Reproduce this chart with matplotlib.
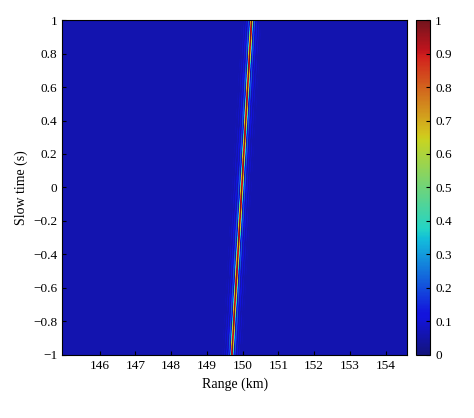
import numpy as np
import matplotlib
matplotlib.use("Agg")
import matplotlib.pyplot as plt
from matplotlib.colors import ListedColormap

range_km = np.linspace(144.95, 154.6, 1200)
slow_time = np.linspace(-1, 1, 300)
line_start_km = 149.7   # at t=-1
line_end_km = 150.25    # at t=1
mainlobe_width_km = 0.06
floor = 0.06
xticks = [146, 147, 148, 149, 150, 151, 152, 153, 154]
yticks = [-1, -0.8, -0.6, -0.4, -0.2, 0, 0.2, 0.4, 0.6, 0.8, 1]
cticks = [0, 0.1, 0.2, 0.3, 0.4, 0.5, 0.6, 0.7, 0.8, 0.9, 1]

jet = plt.get_cmap("jet")(np.linspace(0, 1, 256))[:, :3]
muted = 0.75 * jet + 0.25 * np.array([0.3, 0.32, 0.45])
cmap = ListedColormap(muted)

R, T = np.meshgrid(range_km, slow_time)
center = line_start_km + (T + 1) / 2 * (line_end_km - line_start_km)
img = np.abs(np.sinc((R - center) / mainlobe_width_km))
img = np.maximum(img, floor)

fig = plt.figure(figsize=(4.74, 4.18), dpi=100)
ax = fig.add_axes([0.131, 0.151, 0.728, 0.801])
cax = fig.add_axes([0.878, 0.151, 0.030, 0.801])
m = ax.pcolormesh(range_km, slow_time, img, cmap=cmap, vmin=0, vmax=1, shading="auto")
ax.set_xlim(range_km[0], range_km[-1])
ax.set_ylim(-1, 1)
ax.set_xticks(xticks)
ax.set_yticks(yticks)
ax.set_yticklabels([f"{v:g}".replace("-", "\u2212") for v in yticks])
ax.set_xlabel("Range (km)", fontfamily="Liberation Serif", fontsize=10)
ax.set_ylabel("Slow time (s)", fontfamily="Liberation Serif", fontsize=10)
for lab in ax.get_xticklabels() + ax.get_yticklabels():
    lab.set_fontfamily("Liberation Serif")
    lab.set_fontsize(9.5)
ax.tick_params(direction="in", length=3)
cb = fig.colorbar(m, cax=cax, ticks=cticks)
cb.ax.set_yticklabels([f"{v:g}" for v in cticks])
for lab in cb.ax.get_yticklabels():
    lab.set_fontfamily("Liberation Serif")
    lab.set_fontsize(9.5)
cb.ax.tick_params(direction="in", length=3)
fig.savefig("out.png", dpi=100)
